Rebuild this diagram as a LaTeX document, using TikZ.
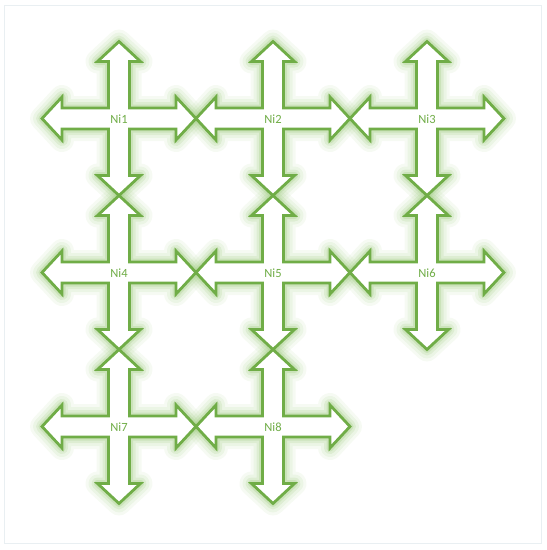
\documentclass[tikz,border=0pt]{standalone}
\usepackage{fontspec}
\setmainfont{Carlito}
\definecolor{nigreen}{HTML}{70AD47}
\definecolor{niglow}{HTML}{A9D18E}
\definecolor{frameclr}{HTML}{E9EFF2}
\newcommand\QL{77}
\newcommand\QH{57}  % L - head length
\newcommand\QW{21.5}
\newcommand\QS{10.5}
\newcommand\QAP{(\QS,-\QS) -- (\QH,-\QS) -- (\QH,-\QW) -- (\QL,0) -- (\QH,\QW) -- (\QH,\QS) -- (\QS,\QS)
 -- (\QS,\QH) -- (\QW,\QH) -- (0,\QL) -- (-\QW,\QH) -- (-\QS,\QH) -- (-\QS,\QS)
 -- (-\QH,\QS) -- (-\QH,\QW) -- (-\QL,0) -- (-\QH,-\QW) -- (-\QH,-\QS) -- (-\QS,-\QS)
 -- (-\QS,-\QH) -- (-\QW,-\QH) -- (0,-\QL) -- (\QW,-\QH) -- (\QS,-\QH) -- cycle}
\tikzset{
  lbl/.style={text=nigreen, font=\fontsize{12.5}{14}\selectfont, inner sep=0pt},
  glowA/.style={draw=niglow, line width=24pt, line join=round, opacity=0.10},
  glowB/.style={draw=niglow, line width=18pt, line join=round, opacity=0.14},
  glowC/.style={draw=niglow, line width=12pt, line join=round, opacity=0.22},
  glowD/.style={draw=niglow, line width=7pt, line join=round, opacity=0.35},
  qarrow/.style={draw=nigreen, fill=white, line width=2.8pt, line join=miter},
  frame/.style={draw=frameclr, line width=1.5pt}
}
\begin{document}
\begin{tikzpicture}[x=1pt,y=-1pt]
\useasboundingbox (0,0) rectangle (547,550);
\node[frame, rectangle, minimum width=537pt, minimum height=538pt, inner sep=0pt] (fr) at (273,274.5) {};
\coordinate (c1) at (119,118.5);
\coordinate (c2) at (273,118.5);
\coordinate (c3) at (427,118.5);
\coordinate (c4) at (119,272.5);
\coordinate (c5) at (273,272.5);
\coordinate (c6) at (427,272.5);
\coordinate (c7) at (119,426.5);
\coordinate (c8) at (273,426.5);
\foreach \i in {1,...,8}{
  \begin{scope}[shift={(c\i)}]
    \path[glowA] \QAP;
    \path[glowB] \QAP;
    \path[glowC] \QAP;
    \path[glowD] \QAP;
  \end{scope}
}
\foreach \i in {1,...,8}{
  \begin{scope}[shift={(c\i)}]
    \path[qarrow] \QAP;
  \end{scope}
}
\foreach \i in {1,...,8}{
  \node[lbl] (n\i) at ([yshift=-0.5pt]c\i) {Ni\i};
}
\end{tikzpicture}
\end{document}
